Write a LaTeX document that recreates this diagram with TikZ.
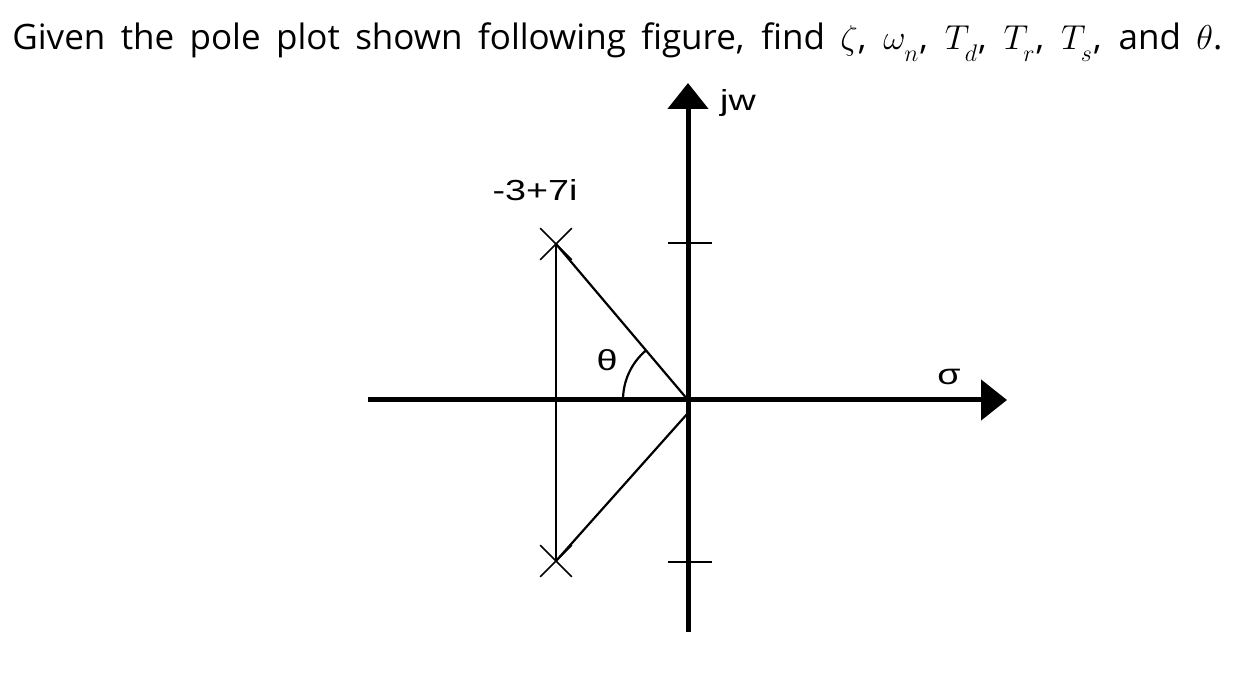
\documentclass[tikz,border=0pt]{standalone}
\usepackage{fontspec}
\usetikzlibrary{arrows.meta,shapes.misc}
\newfontfamily\titlefont{Open Sans}
\newfontfamily\figfont[FakeStretch=1.3]{Liberation Sans}
\newcommand{\lowsub}[2]{#1_{\raisebox{-3pt}{$\scriptstyle #2$}}}
\tikzset{
  eixo/.style={line width=2.5pt, -{Triangle[length=13pt,width=20pt]}},
  linha/.style={line width=1.1pt},
  polo/.style={draw, cross out, line width=0.8pt, minimum size=15pt, inner sep=0pt},
  rotulo/.style={font=\figfont\fontsize{14.5}{16}\selectfont}
}
\begin{document}
\begin{tikzpicture}[x=0.5pt,y=0.5pt]
  \useasboundingbox (0,0) rectangle (1255,676);

  % Enunciado
  \node[anchor=base west, inner sep=0pt] (enunciado) at (12,626)
    {\titlefont\fontsize{17.5}{21}\selectfont\makebox[605pt][s]{Given the pole plot shown following figure, find $\zeta$, $\lowsub{\omega}{n}$, $\lowsub{T}{d}$, $\lowsub{T}{r}$, $\lowsub{T}{s}$, and $\theta$.}};

  % Eixos
  \coordinate (O) at (688,276);
  \coordinate (sigmaL) at (368,276);
  \coordinate (sigmaR) at (1007,276);
  \coordinate (jwB) at (688,44);
  \coordinate (jwT) at (688,593);
  \draw[eixo] (sigmaL) -- (sigmaR);
  \draw[eixo] (jwB) -- (jwT);

  % Marcas no eixo jw
  \foreach \y in {433,114} {
    \draw[linha] (668,\y) -- (712,\y);
  }

  % Polos
  \node[polo] (p1) at (556,432) {};
  \node[polo] (p2) at (556,115) {};
  \coordinate (q) at (688,263);
  \draw[linha] (p1.center) -- (p2.center);
  \draw[linha] (p1.center) -- (O);
  \draw[linha] (p2.center) -- (q);

  % Angulo
  \draw[linha] (O) ++(180:65) arc (180:130.2:65);

  % Rotulos
  \node[rotulo] (theta) at (607,316) {θ};
  \node[rotulo] (polo1) at (535,486) {-3+7i};
  \node[rotulo] (jw) at (738,573) {jw};
  \node[rotulo] (sigma) at (949,299) {σ};
\end{tikzpicture}
\end{document}
